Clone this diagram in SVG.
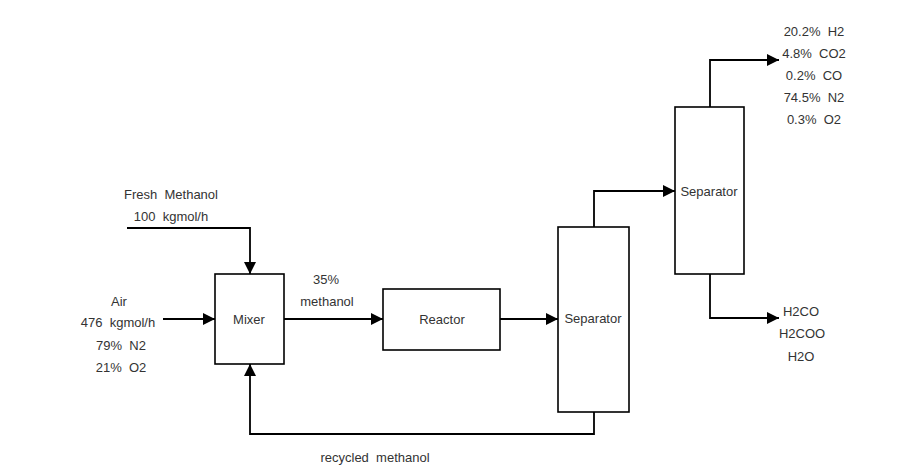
<svg xmlns="http://www.w3.org/2000/svg" width="897" height="475" viewBox="0 0 897 475">
<defs>
<style>
.box{fill:#fff;stroke:#000;stroke-width:1.6}
.ln{fill:none;stroke:#000;stroke-width:1.8;marker-end:url(#arr)}
text{font-family:"Liberation Sans",Arial,sans-serif;font-size:13px;fill:#333;text-anchor:middle;white-space:pre}
</style>
<marker id="arr" markerUnits="userSpaceOnUse" markerWidth="13" markerHeight="13" refX="12" refY="6" orient="auto">
<path d="M0,0 L12,6 L0,12 z" fill="#000"/>
</marker>
</defs>
<rect width="897" height="475" fill="#fff"/>
<g id="connectors">
<path class="ln" d="M127,228 H250 V274"/>
<path class="ln" d="M163,319 H215"/>
<path class="ln" d="M284,319 H383"/>
<path class="ln" d="M500,319 H558"/>
<path class="ln" d="M594,227 V191 H675"/>
<path class="ln" d="M710,107 V60 H779"/>
<path class="ln" d="M710,274 V318 H779"/>
<path class="ln" d="M594,412 V434 H250 V364"/>
</g>
<g id="mixer">
<rect class="box" x="215" y="274" width="69" height="90"/>
<text x="249" y="324">Mixer</text>
</g>
<g id="reactor">
<rect class="box" x="383" y="289" width="117" height="61"/>
<text x="442" y="324">Reactor</text>
</g>
<g id="separator1">
<rect class="box" x="558" y="227" width="71" height="185"/>
<text x="593" y="323">Separator</text>
</g>
<g id="separator2">
<rect class="box" x="675" y="107" width="69" height="167"/>
<text x="709" y="196">Separator</text>
</g>
<g id="labels">
<text x="171" y="199">Fresh  Methanol</text>
<text x="171" y="221">100  kgmol/h</text>
<text x="119" y="306">Air</text>
<text x="118" y="327">476  kgmol/h</text>
<text x="121" y="350">79%  N2</text>
<text x="121" y="372">21%  O2</text>
<text x="326" y="284">35%</text>
<text x="327" y="306">methanol</text>
<text x="375" y="462">recycled  methanol</text>
<text x="814" y="36">20.2%  H2</text>
<text x="814" y="58">4.8%  CO2</text>
<text x="814" y="80">0.2%  CO</text>
<text x="814" y="102">74.5%  N2</text>
<text x="814" y="124">0.3%  O2</text>
<text x="801" y="316">H2CO</text>
<text x="802" y="338">H2COO</text>
<text x="801" y="361">H2O</text>
</g>
</svg>
